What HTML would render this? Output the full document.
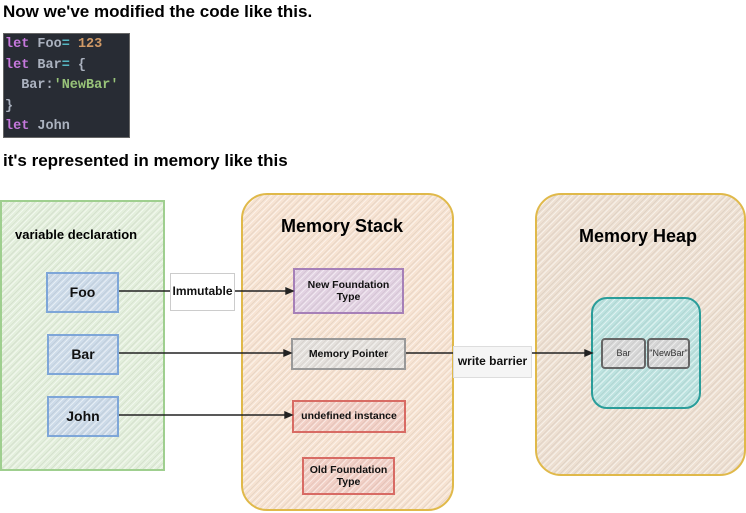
<!DOCTYPE html>
<html><head><meta charset="utf-8"><style>
*{margin:0;padding:0;box-sizing:border-box}
body{width:746px;height:513px;background:#fff;position:relative;overflow:hidden;font-family:"Comic Sans MS","Liberation Sans",sans-serif}
.a{position:absolute}
.t{font-weight:bold;color:#000;white-space:nowrap}
.box{position:absolute;display:flex;align-items:center;justify-content:center;text-align:center;font-weight:bold;color:#111;line-height:1.15}
.hatch{background-image:repeating-linear-gradient(135deg,rgba(255,255,255,.5) 0 1px,transparent 1px 3px,rgba(0,0,0,.06) 3px 4px,transparent 4px 5px)}
.code{font-family:"Liberation Mono","DejaVu Sans Mono",monospace;font-size:13.5px;font-weight:bold;line-height:20.5px;color:#abb2bf}
.k{color:#c678dd}.n{color:#d19a66}.s{color:#98c379}.o{color:#56b6c2}
</style></head><body>
<div class="a t" style="left:3px;top:2px;font-size:17px">Now we've modified the code like this.</div>
<div class="a code" style="left:3px;top:33px;width:127px;height:105px;background:#282c34;border:1px solid #666;padding:1px 0 0 1px">
<div><span class="k">let</span> Foo<span class="o">=</span> <span class="n">123</span></div>
<div><span class="k">let</span> Bar<span class="o">=</span> {</div>
<div>&nbsp;&nbsp;Bar:<span class="s">'NewBar'</span></div>
<div>}</div>
<div><span class="k">let</span> John</div>
</div>
<div class="a t" style="left:3px;top:151px;font-size:17px">it's represented in memory like this</div>

<div class="a hatch" style="left:0;top:200px;width:165px;height:271px;background-color:#e3efdc;border:2px solid #9fcf8f"></div>
<div class="a t" style="left:15px;top:227px;font-size:13px">variable declaration</div>
<div class="box hatch" style="left:46px;top:272px;width:73px;height:41px;background-color:#cddbe9;border:2px solid #7ea6d8;font-size:14px">Foo</div>
<div class="box hatch" style="left:47px;top:334px;width:72px;height:41px;background-color:#cddbe9;border:2px solid #7ea6d8;font-size:14px">Bar</div>
<div class="box hatch" style="left:47px;top:396px;width:72px;height:41px;background-color:#cddbe9;border:2px solid #7ea6d8;font-size:14px">John</div>

<div class="a hatch" style="left:241px;top:193px;width:213px;height:318px;background-color:#f7e3d2;border:2px solid #e0b94a;border-radius:26px"></div>
<div class="a t" style="left:281px;top:216px;font-size:18px">Memory Stack</div>
<div class="box hatch" style="left:293px;top:268px;width:111px;height:46px;background-color:#e2d2e2;border:2px solid #a680b8;font-size:10.5px">New Foundation<br>Type</div>
<div class="box hatch" style="left:291px;top:338px;width:115px;height:32px;background-color:#e4e0dc;border:2px solid #999;font-size:10.5px">Memory Pointer</div>
<div class="box hatch" style="left:292px;top:400px;width:114px;height:33px;background-color:#f2d0c6;border:2px solid #d86b64;font-size:10.5px">undefined instance</div>
<div class="box hatch" style="left:302px;top:457px;width:93px;height:38px;background-color:#f2d0c6;border:2px solid #d86b64;font-size:10.5px">Old Foundation<br>Type</div>

<div class="a hatch" style="left:535px;top:193px;width:211px;height:283px;background-color:#eee0d2;border:2px solid #e0b94a;border-radius:26px"></div>
<div class="a t" style="left:579px;top:226px;font-size:18px">Memory Heap</div>
<div class="a hatch" style="left:591px;top:297px;width:110px;height:112px;background-color:#bde3e0;border:2px solid #2a9d9a;border-radius:16px"></div>
<div class="box hatch" style="left:601px;top:338px;width:45px;height:31px;background-color:#d7d7d7;border:2px solid #666;border-radius:4px;font-size:9px;font-weight:normal;font-family:'Liberation Sans',sans-serif;color:#333">Bar</div>
<div class="box hatch" style="left:647px;top:338px;width:43px;height:31px;background-color:#d7d7d7;border:2px solid #666;border-radius:4px;font-size:9px;font-weight:normal;font-family:'Liberation Sans',sans-serif;color:#333">"NewBar"</div>

<svg class="a" style="left:0;top:0" width="746" height="513">
<g stroke="#222" stroke-width="1.4" fill="#222">
<line x1="119" y1="291" x2="288" y2="291"/><polygon points="293,291 286,288 286,294"/>
<line x1="119" y1="353" x2="286" y2="353"/><polygon points="291,353 284,350 284,356"/>
<line x1="119" y1="415" x2="287" y2="415"/><polygon points="292,415 285,412 285,418"/>
<line x1="406" y1="353" x2="587" y2="353"/><polygon points="592,353 585,350 585,356"/>
</g></svg>
<div class="box" style="left:170px;top:273px;width:65px;height:38px;background:#fff;border:1px solid #ccc;font-size:12px">Immutable</div>
<div class="box" style="left:453px;top:346px;width:79px;height:32px;background:#f5f5f5;border:1px solid #ddd;font-size:12px">write barrier</div>
</body></html>
